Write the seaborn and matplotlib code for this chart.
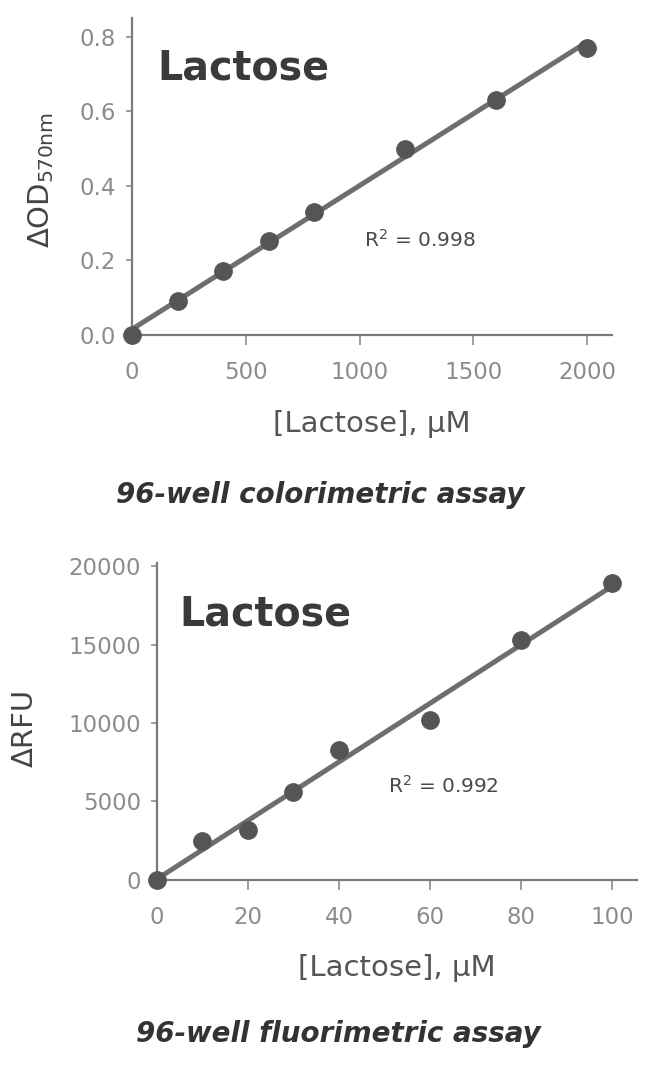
import numpy as np
import seaborn as sns
import matplotlib.pyplot as plt

# colorimetric standard curve
colo_conc = [0, 200, 400, 600, 800, 1200, 1600, 2000]
colo_od = [0.0, 0.092, 0.171, 0.251, 0.330, 0.500, 0.630, 0.771]
colo_xticks = [0, 500, 1000, 1500, 2000]
colo_yticks = [0.0, 0.2, 0.4, 0.6, 0.8]

# fluorimetric standard curve
fluo_conc = [0, 10, 20, 30, 40, 60, 80, 100]
fluo_rfu = [0, 2490, 3170, 5590, 8300, 10180, 15290, 18890]
fluo_xticks = [0, 20, 40, 60, 80, 100]
fluo_yticks = [0, 5000, 10000, 15000, 20000]

sns.set_style("ticks")
plt.rcParams['font.family'] = ['DejaVu Sans']

fig = plt.figure(figsize=(6.5, 10.88), dpi=100)
ax1 = fig.add_axes([0.2031, 0.6921, 0.7385, 0.2914])
ax2 = fig.add_axes([0.2415, 0.1912, 0.7385, 0.2914])

line_col = "#6e6e6e"
dot_col = "#555555"
tick_col = "#8c8c8c"
text_col = "#3a3a3a"


def draw(ax, x, y, xt, yt, xlim, ylim, fmt, ylabel, r2, lac_xy, r2_xy):
    sns.regplot(x=x, y=y, ax=ax, scatter=False, ci=None,
                line_kws=dict(color=line_col, lw=3.6, zorder=2))
    sns.scatterplot(x=x, y=y, ax=ax, s=160, color=dot_col, edgecolor=dot_col,
                    linewidth=0.8, zorder=3, clip_on=False)
    ax.set_xlim(*xlim)
    ax.set_ylim(*ylim)
    ax.set_xticks(xt)
    ax.set_yticks(yt)
    ax.set_yticklabels([fmt.format(v) for v in yt])
    for s in ["top", "right"]:
        ax.spines[s].set_visible(False)
    for s in ["left", "bottom"]:
        ax.spines[s].set_color("#7a7a7a")
        ax.spines[s].set_linewidth(1.6)
    ax.tick_params(axis="x", length=7.5, width=1.2, pad=11, color=tick_col,
                   labelcolor=tick_col, labelsize=16.5)
    ax.tick_params(axis="y", length=4.5, width=1.2, pad=7, color=tick_col,
                   labelcolor=tick_col, labelsize=16.5)
    ax.set_xlabel("[Lactose], \u00b5M", fontsize=21, color="#555555")
    ax.xaxis.set_label_coords(0.5, -0.235)
    ax.xaxis.label.set_va("top")
    ax.set_ylabel(ylabel, fontsize=21, color="#444444")
    ax.yaxis.label.set(va="center", rotation_mode="anchor")
    ax.text(*lac_xy, "Lactose", fontsize=28.5, fontweight="bold", color=text_col,
            ha="left", va="baseline")
    ax.text(*r2_xy, r2, fontsize=14.5, color="#4a4a4a", ha="left", va="baseline")


draw(ax1, colo_conc, colo_od, colo_xticks, colo_yticks, (0, 2110), (0, 0.851),
     "{:.1f}", "\u0394OD$_{\\mathregular{570nm}}$", "R$^2$ = 0.998",
     (110, 0.685), (1020, 0.236))
ax1.yaxis.set_label_coords(-0.19, 0.49)

draw(ax2, fluo_conc, fluo_rfu, fluo_xticks, fluo_yticks, (0, 105.5), (0, 20200),
     "{:.0f}", "\u0394RFU", "R$^2$ = 0.992", (5.0, 16240), (50.8, 5570))
ax2.yaxis.set_label_coords(-0.275, 0.48)

cap_kw = dict(ha="center", va="baseline", fontsize=20, fontweight="bold",
              style="italic", color="#333333")
fig.text(0.492, 0.5377, "96-well colorimetric assay", **cap_kw)
fig.text(0.52, 0.0423, "96-well fluorimetric assay", **cap_kw)

fig.savefig("out.png", dpi=100, facecolor="white")
